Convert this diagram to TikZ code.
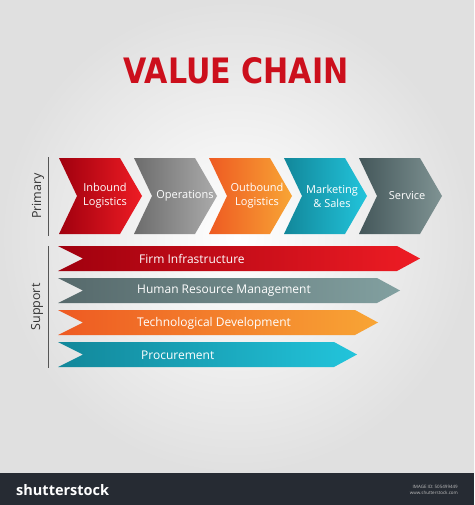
\documentclass[tikz,border=0pt]{standalone}
\usepackage{fontspec}
\setmainfont{Open Sans}
\newfontfamily\titlefont{DejaVu Sans}
\definecolor{bggray}{HTML}{E0E0E0}
\definecolor{redA}{HTML}{A0000E}
\definecolor{redB}{HTML}{EE1C24}
\definecolor{grayA}{HTML}{6C6C6C}
\definecolor{grayB}{HTML}{ABABAB}
\definecolor{orA}{HTML}{EE5A22}
\definecolor{orB}{HTML}{F8A535}
\definecolor{tealA}{HTML}{12879A}
\definecolor{tealB}{HTML}{22C4DB}
\definecolor{slateA}{HTML}{44575A}
\definecolor{slateB}{HTML}{7F9393}
\definecolor{hrA}{HTML}{56696B}
\definecolor{hrB}{HTML}{82A0A0}
\definecolor{titlered}{HTML}{CC0F1C}
\definecolor{footer}{HTML}{262B33}
\definecolor{axisgray}{HTML}{555555}
\begin{document}
\begin{tikzpicture}[x=1pt,y=-1pt,
  plabel/.style={text=white,font=\fontsize{11}{14}\selectfont,align=center,inner sep=0pt},
  slabel/.style={text=white,font=\fontsize{12}{14}\selectfont,anchor=west,inner sep=0pt},
  side/.style={text=black!80,font=\fontsize{12.5}{14}\selectfont,rotate=90,inner sep=0pt},
  axisline/.style={draw=axisgray,line width=0.9pt},
  titlestyle/.style={text=titlered,font=\titlefont\bfseries\fontsize{35}{37}\selectfont,xscale=0.86,inner sep=0pt}]
\useasboundingbox (0,0) rectangle (474,505);
% background
\shade[inner color=white, outer color=bggray] (0,0) rectangle (474,474);
% title
\node[titlestyle] (title) at (236,71) {VALUE CHAIN};
% primary chevrons
\foreach \i/\ca/\cb in {0/redA/redB,1/grayA/grayB,2/orA/orB,3/tealA/tealB,4/slateA/slateB}{
  \pgfmathsetmacro\xo{59+75*\i}
  \shade[left color=\ca, right color=\cb] (\xo,158) -- ++(61,0) -- ++(22,38) -- ++(-22,38) -- ++(-61,0) -- ++(18,-38) -- cycle;
}
\node[plabel] (inbound) at (105,196) {Inbound\\Logistics};
\node[plabel] (operations) at (185,196) {Operations};
\node[plabel] (outbound) at (257,196) {Outbound\\Logistics};
\node[plabel] (marketing) at (332,196) {Marketing\\\& Sales};
\node[plabel] (service) at (407,196) {Service};
% support bands
\shade[left color=redA, right color=redB] (58,246) -- (397,246) -- (420,258.5) -- (397,271) -- (58,271) -- (83,258.5) -- cycle;
\shade[left color=hrA, right color=hrB] (58,278) -- (377,278) -- (400,290.5) -- (377,303) -- (58,303) -- (83,290.5) -- cycle;
\shade[left color=orA, right color=orB] (58,310) -- (355,310) -- (378,322.5) -- (355,335) -- (58,335) -- (83,322.5) -- cycle;
\shade[left color=tealA, right color=tealB] (58,342) -- (334,342) -- (357,354.5) -- (334,367) -- (58,367) -- (83,354.5) -- cycle;
\node[slabel] (firm) at (139,259) {Firm Infrastructure};
\node[slabel] (hr) at (137,291) {Human Resource Management};
\node[slabel] (tech) at (137,323) {Technological Development};
\node[slabel] (proc) at (141,355) {Procurement};
% side axes
\draw[axisline] (48,157) -- (48,236);
\draw[axisline] (48,246) -- (48,368);
\node[side] (primary) at (38,196) {Primary};
\node[side] (support) at (37,307) {Support};
% footer
\fill[footer] (0,473) rectangle (474,505);
\node[text=white,font=\fontsize{14.5}{16}\selectfont\bfseries,anchor=west,inner sep=0pt] (brand) at (16,490) {shutterstock};
\node[text=white!75!black,font=\fontsize{4.5}{5.5}\selectfont,anchor=east,align=right,inner sep=0pt] (imgid) at (458,490) {IMAGE ID: 505499449\\www.shutterstock.com};
\end{tikzpicture}
\end{document}
